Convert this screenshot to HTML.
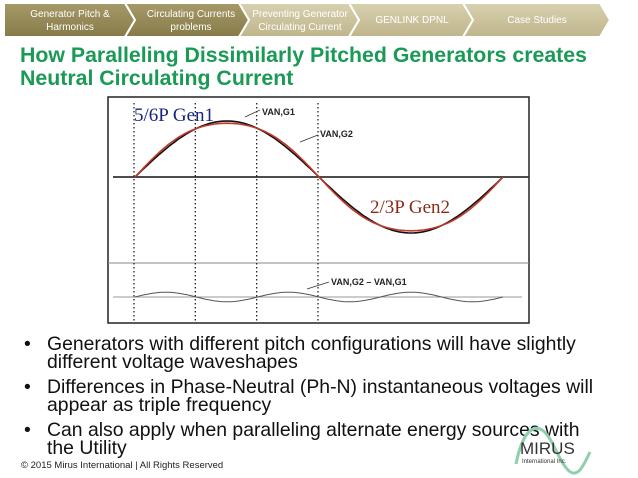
<!DOCTYPE html>
<html><head><meta charset="utf-8"><style>
body{margin:0;width:638px;height:478px;background:#fff;overflow:hidden;font-family:"Liberation Sans",sans-serif;position:relative}
.title{position:absolute;left:20px;top:44px;color:#1a9a55;font-weight:bold;font-size:21.3px;line-height:23px;white-space:nowrap}
ul{position:absolute;left:0;top:335px;margin:0;padding:0;list-style:none}
li{position:relative;padding-left:47px;font-size:19.4px;line-height:18px;color:#111;margin-bottom:7px;width:556px}
li:before{content:"•";position:absolute;left:24px;top:0}
.foot{position:absolute;left:21px;top:460px;font-size:9.5px;color:#222}
</style></head><body>
<svg width="638" height="42" style="position:absolute;left:0;top:0">
<defs><linearGradient id="d" x1="0" y1="0" x2="0" y2="1"><stop offset="0" stop-color="#a59a68"/><stop offset="1" stop-color="#857a48"/></linearGradient>
<linearGradient id="l" x1="0" y1="0" x2="0" y2="1"><stop offset="0" stop-color="#d8d1b0"/><stop offset="1" stop-color="#bfb58c"/></linearGradient></defs>
<g><polygon points="4,3 125,3 135,20 125,37 4,37" fill="url(#d)" stroke="#fff" stroke-width="2"/><text x="70" y="17" font-size="10" fill="#fff" text-anchor="middle">Generator Pitch &amp;</text><text x="70" y="30" font-size="10" fill="#fff" text-anchor="middle">Harmonics</text></g>
<g><polygon points="125,3 239,3 249,20 239,37 125,37 135,20" fill="url(#d)" stroke="#fff" stroke-width="2"/><text x="191" y="17" font-size="10" fill="#fff" text-anchor="middle">Circulating Currents</text><text x="191" y="30" font-size="10" fill="#fff" text-anchor="middle">problems</text></g>
<g><polygon points="239,3 349,3 359,20 349,37 239,37 249,20" fill="url(#l)" stroke="#fff" stroke-width="2"/><text x="300" y="17" font-size="10" fill="#fff" text-anchor="middle">Preventing Generator</text><text x="300" y="30" font-size="10" fill="#fff" text-anchor="middle">Circulating Current</text></g>
<g><polygon points="349,3 463,3 473,20 463,37 349,37 359,20" fill="url(#l)" stroke="#fff" stroke-width="2"/><text x="412" y="23" font-size="10" fill="#fff" text-anchor="middle">GENLINK DPNL</text></g>
<g><polygon points="463,3 600,3 610,20 600,37 463,37 473,20" fill="url(#l)" stroke="#fff" stroke-width="2"/><text x="537" y="23" font-size="10" fill="#fff" text-anchor="middle">Case Studies</text></g>
</svg>
<div class="title">How Paralleling Dissimilarly Pitched Generators creates<br>Neutral Circulating Current</div>
<svg id="chart" width="638" height="478" style="position:absolute;left:0;top:0"></svg>
<ul>
<li>Generators with different pitch configurations will have slightly different voltage waveshapes</li>
<li>Differences in Phase-Neutral (Ph-N) instantaneous voltages will appear as triple frequency</li>
<li>Can also apply when paralleling alternate energy sources with the Utility</li>
</ul>
<div class="foot">© 2015 Mirus International | All Rights Reserved</div>
<svg width="90" height="56" style="position:absolute;left:506px;top:420px">
<path d="M10,44 C16,14 26,4 36,10 S52,40 62,50 S78,44 84,32" fill="none" stroke="#8fcfab" stroke-width="3"/>
<text x="14" y="34" font-size="17" fill="#333" font-family="Liberation Sans">MIRUS</text>
<text x="16" y="43" font-size="6" fill="#333">International Inc.</text>
</svg>
<script>
const fundamental=[1.0,1.0];
const thirdHarmonic=[0.0,0.04];
const seriesNames=["gen1","gen2"];
const dividerDegrees=[0,60,120,180];
const NS="http://www.w3.org/2000/svg";
const svg=document.getElementById('chart');
const x0=135,x1=503,yZero=177,amp=56,yDiff=297,ampDiff=120;
const xs=d=>x0+(x1-x0)*d/360;
function mk(t,a,name){const e=document.createElementNS(NS,t);for(const k in a)e.setAttribute(k,a[k]);


svg.appendChild(e);return e;}
mk('rect',{x:108,y:97,width:421,height:226,fill:'none',stroke:'#222','stroke-width':1.5},'chart-frame');
mk('line',{x1:108,y1:263,x2:529,y2:263,stroke:'#888','stroke-width':1},'panel-divider');
mk('line',{x1:113,y1:yZero,x2:529,y2:yZero,stroke:'#333','stroke-width':1.8},'zero-axis');
mk('line',{x1:113,y1:yDiff,x2:522,y2:yDiff,stroke:'#999','stroke-width':1},'diff-axis');
dividerDegrees.forEach((d,i)=>{mk('line',{x1:xs(d)-1,y1:103,x2:xs(d)-1,y2:323,stroke:'#222','stroke-width':1.3,'stroke-dasharray':'1.5,2.5'},'divider-'+i);});
function val(i,d){const r=d*Math.PI/180;return fundamental[i]*Math.sin(r)+thirdHarmonic[i]*Math.sin(3*r);}
const colors=['#111','#c0392b'];
seriesNames.forEach((n,i)=>{let p='';for(let d=0;d<=360;d+=3)p+=(d?'L':'M')+xs(d).toFixed(1)+','+(yZero-amp*val(i,d)).toFixed(1);
mk('path',{d:p,fill:'none',stroke:colors[i],'stroke-width':1.6},'wave-'+n);});
let p='';for(let d=0;d<=360;d+=3)p+=(d?'L':'M')+xs(d).toFixed(1)+','+(yDiff-ampDiff*(val(1,d)-val(0,d))).toFixed(1);
mk('path',{d:p,fill:'none',stroke:'#555','stroke-width':1},'wave-difference');
function txt(x,y,s,sz,fill,name,fam){const t=mk('text',{x:x,y:y,'font-size':sz,fill:fill,'font-family':fam||'Liberation Sans','font-weight':fam?'normal':'bold'},name);t.textContent=s;return t;}
txt(134,121,'5/6P Gen1',19,'#1a237e','gen1-label','Liberation Serif');
txt(370,213,'2/3P Gen2',19,'#8b2c1a','gen2-label','Liberation Serif');
txt(262,115,'VAN,G1',9,'#222','van-g1-label');
txt(320,137,'VAN,G2',9,'#222','van-g2-label');
txt(331,285,'VAN,G2 – VAN,G1',9,'#222','diff-label');
mk('line',{x1:260,y1:110,x2:245,y2:117,stroke:'#333','stroke-width':0.8},'arrow-g1');
mk('line',{x1:318,y1:135,x2:300,y2:142,stroke:'#333','stroke-width':0.8},'arrow-g2');
mk('line',{x1:329,y1:282,x2:307,y2:289,stroke:'#333','stroke-width':0.8},'arrow-diff');
</script>
</body></html>
